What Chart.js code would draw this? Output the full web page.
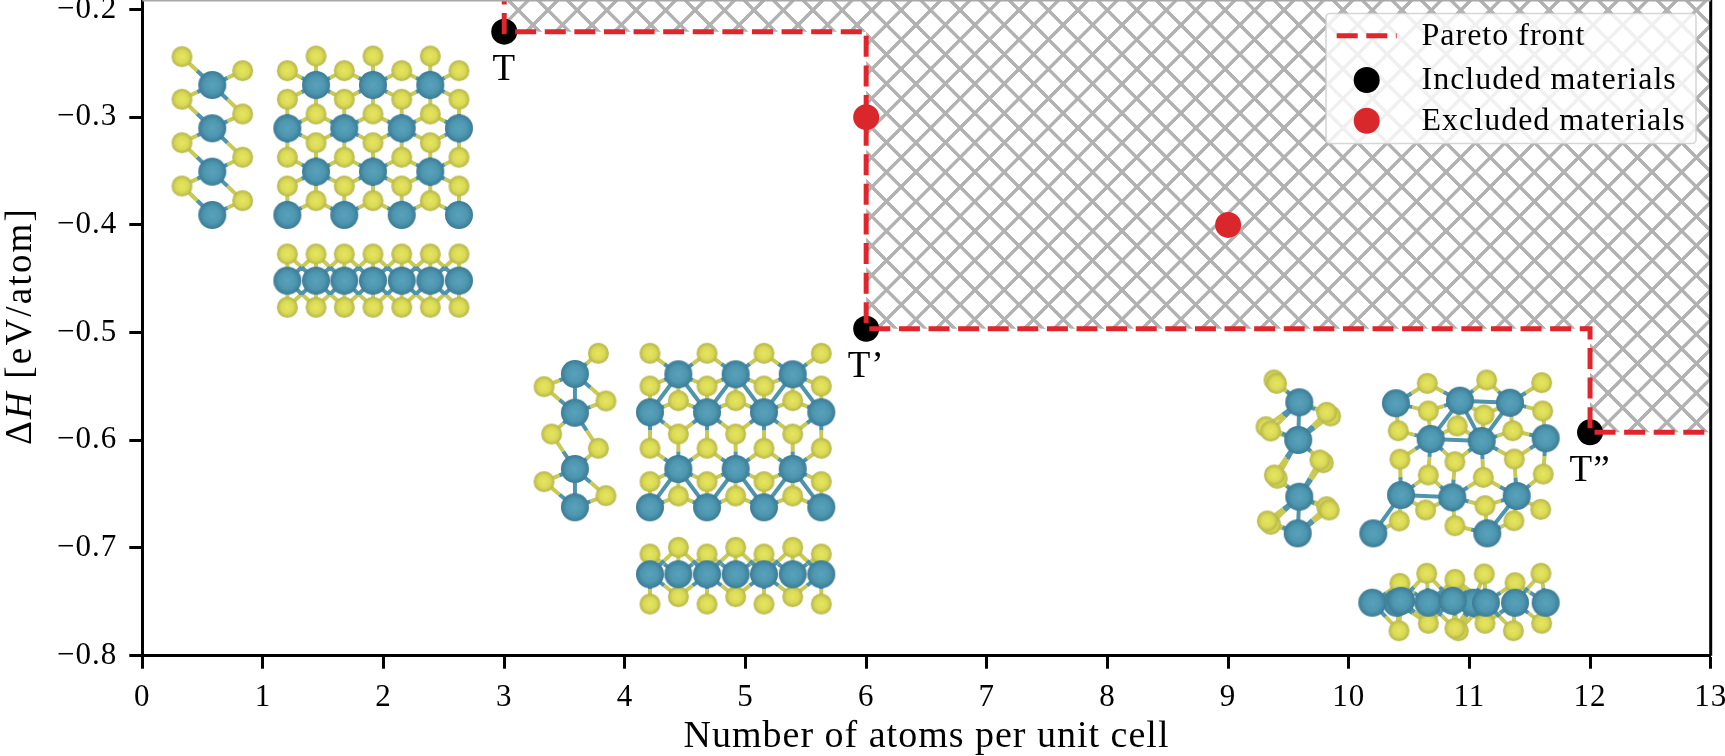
<!DOCTYPE html>
<html>
<head>
<meta charset="utf-8">
<title>Pareto front</title>
<script src="https://cdn.jsdelivr.net/npm/chart.js@4"></script>
<style>
    html, body { margin: 0; padding: 0; background: #fff; overflow: hidden; }
    canvas { display: block; }
</style>
</head>
<body>
<canvas id="paretoChart" width="1725" height="756"></canvas>
<script>
// Axis ticks
const xTickValues = [0, 1, 2, 3, 4, 5, 6, 7, 8, 9, 10, 11, 12, 13];
const yTickValues = [-0.8, -0.7, -0.6, -0.5, -0.4, -0.3, -0.2];
const yTickLabels = ["−0.8", "−0.7", "−0.6", "−0.5", "−0.4", "−0.3", "−0.2"];
const yTop = -0.1912;

// Materials
const includedX = [3, 6, 12];
const includedY = [-0.2206, -0.4964, -0.5926];
const includedNames = ["T", "T’", "T”"];
const excludedX = [6, 9];
const excludedY = [-0.3, -0.4];
const paretoX = [3, 3, 6, 6, 12, 12, 13];
const paretoY = [yTop, -0.2206, -0.2206, -0.4964, -0.4964, -0.5926, -0.5926];
const legendLabels = ["Pareto front", "Included materials", "Excluded materials"];

// Crystal sketches, atom positions read in axis units
const tSideTi = [[0.580, -0.2701], [0.580, -0.3103], [0.580, -0.3506], [0.580, -0.3908]];
const tSideS = [
    [0.329, -0.2438], [0.329, -0.2834], [0.329, -0.3237], [0.329, -0.3639],
    [0.832, -0.2568], [0.832, -0.2970], [0.832, -0.3372], [0.832, -0.3775]
];
const tTopTi = [
    [1.440, -0.2701], [1.912, -0.2701], [2.387, -0.2701],
    [1.202, -0.3103], [1.674, -0.3103], [2.150, -0.3103], [2.625, -0.3103],
    [1.440, -0.3506], [1.912, -0.3506], [2.387, -0.3506],
    [1.202, -0.3908], [1.674, -0.3908], [2.150, -0.3908], [2.625, -0.3908]
];
const tTopS = [
    [1.440, -0.2432], [1.912, -0.2432], [2.387, -0.2432],
    [1.202, -0.2568], [1.674, -0.2568], [2.150, -0.2568], [2.625, -0.2568],
    [1.202, -0.2834], [1.674, -0.2834], [2.150, -0.2834], [2.625, -0.2834],
    [1.440, -0.2970], [1.912, -0.2970], [2.387, -0.2970],
    [1.440, -0.3237], [1.912, -0.3237], [2.387, -0.3237],
    [1.202, -0.3372], [1.674, -0.3372], [2.150, -0.3372], [2.625, -0.3372],
    [1.202, -0.3639], [1.674, -0.3639], [2.150, -0.3639], [2.625, -0.3639],
    [1.440, -0.3775], [1.912, -0.3775], [2.387, -0.3775]
];
const tEdgeTi = [
    [1.202, -0.4518], [1.440, -0.4518], [1.674, -0.4518], [1.912, -0.4518],
    [2.150, -0.4518], [2.387, -0.4518], [2.625, -0.4518]
];
const tEdgeS = [
    [1.202, -0.4270], [1.440, -0.4270], [1.674, -0.4270], [1.912, -0.4270],
    [2.150, -0.4270], [2.387, -0.4270], [2.625, -0.4270],
    [1.202, -0.4765], [1.440, -0.4765], [1.674, -0.4765], [1.912, -0.4765],
    [2.150, -0.4765], [2.387, -0.4765], [2.625, -0.4765]
];

const t1SideTi = [[3.586, -0.5384], [3.586, -0.5744], [3.586, -0.6266], [3.586, -0.6622]];
const t1SideS = [
    [3.780, -0.5192], [3.330, -0.5502], [3.843, -0.5635], [3.393, -0.5942],
    [3.780, -0.6074], [3.330, -0.6384], [3.843, -0.6514]
];
const t1TopTi = [
    [4.443, -0.5387], [4.918, -0.5387], [5.391, -0.5387],
    [4.208, -0.5740], [4.681, -0.5740], [5.153, -0.5740], [5.628, -0.5740],
    [4.443, -0.6266], [4.918, -0.6266], [5.391, -0.6266],
    [4.208, -0.6622], [4.681, -0.6622], [5.153, -0.6622], [5.628, -0.6622]
];
const t1TopS = [
    [4.208, -0.5192], [4.681, -0.5192], [5.153, -0.5192], [5.628, -0.5192],
    [4.208, -0.5496], [4.681, -0.5496], [5.153, -0.5496], [5.628, -0.5496],
    [4.443, -0.5632], [4.918, -0.5632], [5.391, -0.5632],
    [4.443, -0.5942], [4.918, -0.5942], [5.391, -0.5942],
    [4.208, -0.6074], [4.681, -0.6074], [5.153, -0.6074], [5.628, -0.6074],
    [4.208, -0.6384], [4.681, -0.6384], [5.153, -0.6384], [5.628, -0.6384],
    [4.443, -0.6517], [4.918, -0.6517], [5.391, -0.6517]
];
const t1EdgeTi = [
    [4.208, -0.7244], [4.443, -0.7244], [4.681, -0.7244], [4.918, -0.7244],
    [5.153, -0.7244], [5.391, -0.7244], [5.628, -0.7244]
];
const t1EdgeS = [
    [4.208, -0.7056], [4.681, -0.7056], [5.153, -0.7056], [5.628, -0.7056],
    [4.443, -0.6994], [4.918, -0.6994], [5.391, -0.6994],
    [4.443, -0.7452], [4.918, -0.7452], [5.391, -0.7452],
    [4.208, -0.7520], [4.681, -0.7520], [5.153, -0.7520], [5.628, -0.7520]
];

const t2SideTi = [[9.590, -0.5647], [9.581, -0.5997], [9.590, -0.6524], [9.577, -0.6864]];
const t2SideS = [
    [9.380, -0.5440], [9.402, -0.5471], [9.314, -0.5874], [9.353, -0.5914],
    [9.850, -0.5774], [9.817, -0.5740], [9.789, -0.6208], [9.761, -0.6183],
    [9.407, -0.6353], [9.383, -0.6322], [9.817, -0.6617], [9.838, -0.6647],
    [9.353, -0.6780], [9.325, -0.6749]
];
const t2TopTi = [
    [10.391, -0.5656], [10.922, -0.5632], [11.336, -0.5651],
    [10.679, -0.5988], [11.102, -0.6007], [11.632, -0.5981],
    [10.433, -0.6508], [10.858, -0.6529], [11.392, -0.6517],
    [10.203, -0.6864], [11.148, -0.6864]
];
const t2TopBonds = [[1, 2], [3, 4], [6, 7], [1, 3], [1, 4], [2, 4], [6, 9], [8, 10]];
const t2TopS = [
    [10.651, -0.5471], [11.143, -0.5440], [11.599, -0.5465],
    [10.659, -0.5728], [11.121, -0.5765], [11.607, -0.5728],
    [10.410, -0.5911], [10.899, -0.5867], [11.359, -0.5911],
    [10.424, -0.6176], [10.880, -0.6199], [11.372, -0.6174],
    [10.659, -0.6322], [11.115, -0.6344], [11.612, -0.6313],
    [10.637, -0.6647], [11.129, -0.6607], [11.591, -0.6641],
    [10.419, -0.6749], [10.880, -0.6793], [11.369, -0.6747]
];
const t2EdgeTi = [
    [10.659, -0.7508], [11.032, -0.7508], [10.397, -0.7508],
    [10.195, -0.7508], [10.433, -0.7490], [10.861, -0.7490],
    [11.137, -0.7508], [11.378, -0.7508], [11.632, -0.7508]
];
const t2EdgeS = [
    [10.424, -0.7328], [10.646, -0.7235], [10.880, -0.7291], [11.123, -0.7241],
    [11.378, -0.7322], [11.593, -0.7235],
    [10.416, -0.7768], [10.659, -0.7699], [10.908, -0.7768], [10.880, -0.7746],
    [11.129, -0.7699], [11.364, -0.7768], [11.599, -0.7699]
];

// ti, s, and the longest Ti-S / Ti-Ti bond in pixels
const crystals = [
    { ti: tSideTi, s: tSideS, reach: 44, tiReach: 0 },
    { ti: tTopTi, s: tTopS, reach: 36, tiReach: 0 },
    { ti: tEdgeTi, s: tEdgeS, reach: 40, tiReach: 0 },
    { ti: t1SideTi, s: t1SideS, reach: 44, tiReach: 42 },
    { ti: t1TopTi, s: t1TopS, reach: 38, tiReach: 50 },
    { ti: t1EdgeTi, s: t1EdgeS, reach: 40, tiReach: 0 },
    { ti: t2SideTi, s: t2SideS, reach: 44, tiReach: 42 },
    { ti: t2TopTi, s: t2TopS, reach: 39, tiReach: 0, tiPairs: t2TopBonds },
    { ti: t2EdgeTi, s: t2EdgeS, reach: 40, tiReach: 0 }
];

const PX_PER_X = 120.65;
const PX_PER_Y = 1077;
const FONT = "'Liberation Serif', serif";
const LINE_RED = "#e0262c";
const DOT_RED = "#da272b";

function toPoints(pairs) {
    return pairs.map(p => ({ x: p[0], y: p[1] }));
}

function pixelDist(a, b) {
    return Math.hypot((a[0] - b[0]) * PX_PER_X, (a[1] - b[1]) * PX_PER_Y);
}

// Bonds run as broken polylines: Ti half, S half
const bondsS = [];
const bondsTi = [];
function addSegment(list, a, b) {
    list.push({ x: a[0], y: a[1] }, { x: b[0], y: b[1] }, { x: NaN, y: NaN });
}
crystals.forEach(c => {
    c.ti.forEach(t => {
        c.s.forEach(s => {
            if (pixelDist(t, s) <= c.reach) {
                const mid = [(t[0] + s[0]) / 2, (t[1] + s[1]) / 2];
                addSegment(bondsTi, t, mid);
                addSegment(bondsS, mid, s);
            }
        });
    });
    c.ti.forEach((a, i) => {
        c.ti.forEach((b, j) => {
            if (j > i && pixelDist(a, b) <= c.tiReach) addSegment(bondsTi, a, b);
        });
    });
    (c.tiPairs || []).forEach(p => addSegment(bondsTi, c.ti[p[0]], c.ti[p[1]]));
});

// Shaded spheres used as point style
function sphere(radius, light, mid, dark) {
    const c = document.createElement("canvas");
    c.width = c.height = Math.ceil(radius * 2) + 2;
    const g = c.getContext("2d");
    const o = c.width / 2;
    const grad = g.createRadialGradient(o, o, 0, o, o, radius);
    grad.addColorStop(0, light);
    grad.addColorStop(0.6, mid);
    grad.addColorStop(1, dark);
    g.fillStyle = grad;
    g.beginPath();
    g.arc(o, o, radius, 0, Math.PI * 2);
    g.fill();
    return c;
}

// Cross hatch above the front
function hatchPattern(ctx) {
    const size = 100;
    const period = 29.45;
    const c = document.createElement("canvas");
    c.width = c.height = size;
    const g = c.getContext("2d");
    g.fillStyle = "#fff";
    g.fillRect(0, 0, size, size);
    g.strokeStyle = "#b2b2b2";
    g.lineWidth = 3.4 * size / period;
    [[-10, -10, size + 10, size + 10], [-10, size + 10, size + 10, -10]].forEach(l => {
        g.beginPath();
        g.moveTo(l[0], l[1]);
        g.lineTo(l[2], l[3]);
        g.stroke();
    });
    const pattern = ctx.createPattern(c, "repeat");
    pattern.setTransform(new DOMMatrix().translate(1608 - period / 2, 393 - period / 2).scale(period / size));
    return pattern;
}

const canvas = document.getElementById("paretoChart");
const ctx = canvas.getContext("2d");

const allS = crystals.flatMap(c => c.s);
const allTi = crystals.flatMap(c => c.ti);

// Names next to the black points, spines, y title and legend
const overlay = {
    id: "overlay",
    beforeDraw(chart) {
        chart.ctx.letterSpacing = "1px";
    },
    afterDatasetsDraw(chart) {
        const g = chart.ctx;
        const { x, y } = chart.scales;
        g.save();
        g.fillStyle = "#000";
        g.font = "37px " + FONT;
        g.textAlign = "center";
        g.textBaseline = "middle";
        includedNames.forEach((name, i) => {
            g.fillText(name, x.getPixelForValue(includedX[i]), y.getPixelForValue(includedY[i]) + 39);
        });

        // legend
        const box = { left: 1326, top: 13.5, width: 370, height: 130 };
        g.beginPath();
        g.roundRect(box.left, box.top, box.width, box.height, 4);
        g.fillStyle = "rgba(255,255,255,0.8)";
        g.fill();
        g.lineWidth = 1.6;
        g.strokeStyle = "rgba(204,204,204,0.8)";
        g.stroke();

        const rows = [35.7, 80, 120.7];
        g.strokeStyle = LINE_RED;
        g.lineWidth = 5;
        g.setLineDash([21, 8.6]);
        g.beginPath();
        g.moveTo(1336.7, rows[0]);
        g.lineTo(1396.7, rows[0]);
        g.stroke();
        g.setLineDash([]);
        ["#000", DOT_RED].forEach((color, i) => {
            g.fillStyle = color;
            g.beginPath();
            g.arc(1366.7, rows[i + 1], 13, 0, Math.PI * 2);
            g.fill();
        });
        g.fillStyle = "#000";
        g.font = "32px " + FONT;
        g.textAlign = "left";
        legendLabels.forEach((label, i) => g.fillText(label, 1421.5, rows[i] + 1));
        g.restore();
    },
    afterDraw(chart) {
        const g = chart.ctx;
        const a = chart.chartArea;
        g.save();
        g.strokeStyle = "#000";
        g.lineWidth = 3;
        g.beginPath();
        g.moveTo(a.right, a.top);
        g.lineTo(a.right, a.bottom);
        g.stroke();
        g.strokeStyle = "#a8a8a8";
        g.lineWidth = 2;
        g.beginPath();
        g.moveTo(a.left, 0.5);
        g.lineTo(a.right, 0.5);
        g.stroke();

        // y title, the H is set in italic
        const parts = [["Δ", ""], ["H", "italic "], [" [eV/atom]", ""]];
        g.translate(21, 326);
        g.rotate(-Math.PI / 2);
        g.fillStyle = "#000";
        g.textAlign = "left";
        g.textBaseline = "middle";
        g.letterSpacing = "2.2px";
        let total = 0;
        const widths = parts.map(p => {
            g.font = p[1] + "37px " + FONT;
            const w = g.measureText(p[0]).width;
            total += w;
            return w;
        });
        let pos = -total / 2;
        parts.forEach((p, i) => {
            g.font = p[1] + "37px " + FONT;
            g.fillText(p[0], pos, 0);
            pos += widths[i];
        });
        g.restore();
    }
};

ctx.letterSpacing = "1px";

new Chart(ctx, {
    type: "scatter",
    data: {
        datasets: [
            {
                label: legendLabels[2],
                data: excludedX.map((v, i) => ({ x: v, y: excludedY[i] })),
                backgroundColor: DOT_RED,
                borderWidth: 0,
                pointRadius: 13,
                order: 1
            },
            {
                label: legendLabels[0],
                data: paretoX.map((v, i) => ({ x: v, y: paretoY[i] })),
                showLine: true,
                borderColor: LINE_RED,
                borderWidth: 5,
                borderDash: [21, 8.6],
                borderDashOffset: 16.6,
                borderJoinStyle: "miter",
                pointRadius: 0,
                backgroundColor: hatchPattern(ctx),
                fill: "end",
                order: 2
            },
            {
                label: legendLabels[1],
                data: includedX.map((v, i) => ({ x: v, y: includedY[i] })),
                backgroundColor: "#000",
                borderWidth: 0,
                pointRadius: 13,
                order: 3
            },
            {
                label: "Ti",
                data: toPoints(allTi),
                pointStyle: sphere(14, "#5aa2bb", "#4e97b1", "#3c7b94"),
                pointRadius: 14,
                order: 4
            },
            {
                label: "S",
                data: toPoints(allS),
                pointStyle: sphere(10.5, "#e6e662", "#dada54", "#b4b44e"),
                pointRadius: 10.5,
                order: 5
            },
            {
                label: "Ti bonds",
                data: bondsTi,
                showLine: true,
                borderColor: "#4f93ad",
                borderWidth: 4,
                pointRadius: 0,
                spanGaps: false,
                order: 6
            },
            {
                label: "S bonds",
                data: bondsS,
                showLine: true,
                borderColor: "#c9c954",
                borderWidth: 4,
                pointRadius: 0,
                spanGaps: false,
                order: 7
            }
        ]
    },
    options: {
        responsive: false,
        animation: false,
        events: [],
        layout: {
            autoPadding: false,
            padding: { top: 0, right: 14.3, bottom: 0, left: 0 }
        },
        plugins: {
            legend: { display: false },
            tooltip: { enabled: false },
            filler: { drawTime: "beforeDatasetsDraw" }
        },
        scales: {
            x: {
                type: "linear",
                min: 0,
                max: 13,
                afterBuildTicks: scale => {
                    scale.ticks = xTickValues.map(v => ({ value: v }));
                },
                afterFit: scale => {
                    scale.height = 100.3;
                    scale.paddingLeft = 0;
                    scale.paddingRight = 0;
                },
                border: { display: true, color: "#000", width: 3 },
                grid: { drawOnChartArea: false, tickLength: 13, tickWidth: 3, tickColor: "#000" },
                ticks: {
                    color: "#000",
                    maxRotation: 0,
                    autoSkip: false,
                    padding: 11,
                    font: { family: FONT, size: 31 }
                },
                title: {
                    display: true,
                    text: "Number of atoms per unit cell",
                    color: "#000",
                    font: { family: FONT, size: 38, lineHeight: 1 },
                    padding: { top: 0, bottom: 0 }
                }
            },
            y: {
                type: "linear",
                min: -0.8,
                max: yTop,
                afterBuildTicks: scale => {
                    scale.ticks = yTickValues.map(v => ({ value: v }));
                },
                afterFit: scale => {
                    scale.width = 142.3;
                    scale.paddingTop = 0;
                    scale.paddingBottom = 0;
                },
                border: { display: true, color: "#000", width: 3 },
                grid: { drawOnChartArea: false, tickLength: 13, tickWidth: 3, tickColor: "#000" },
                ticks: {
                    color: "#000",
                    autoSkip: false,
                    padding: 12,
                    font: { family: FONT, size: 31 },
                    callback: (value, index) => yTickLabels[index]
                }
            }
        }
    },
    plugins: [overlay]
});
</script>
</body>
</html>
